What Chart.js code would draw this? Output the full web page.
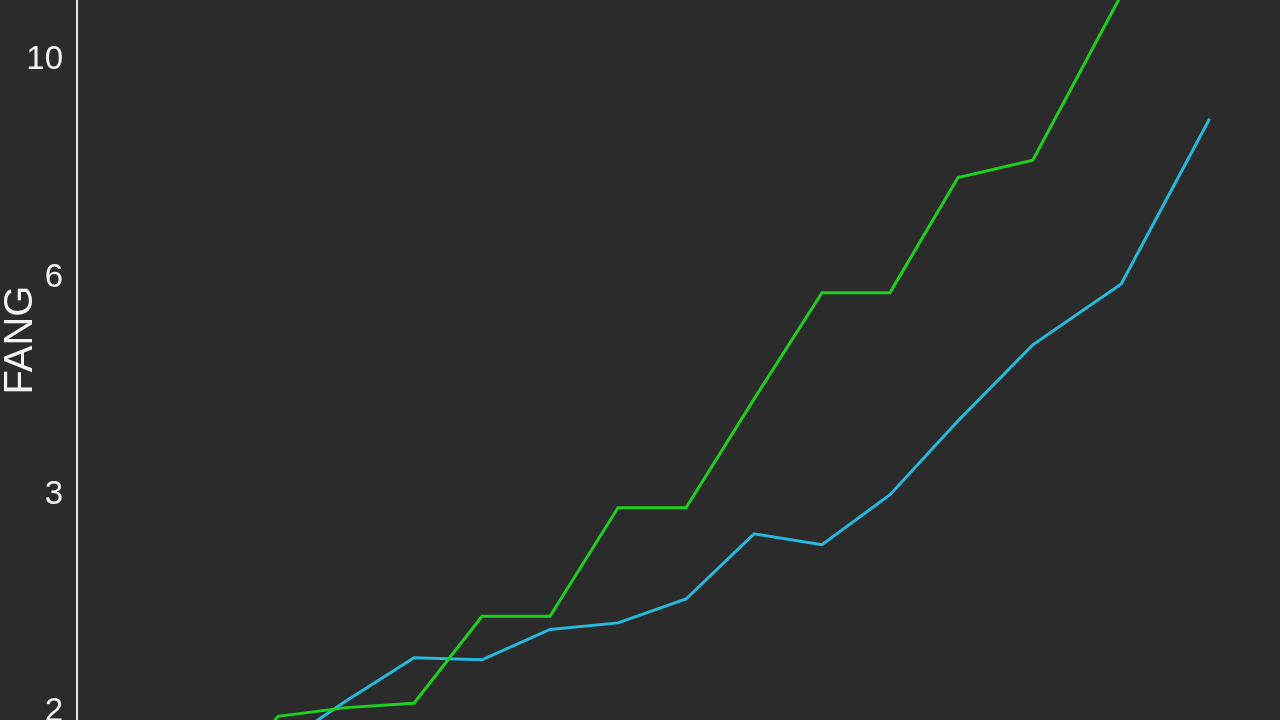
<!DOCTYPE html>
<html>
<head>
<meta charset="utf-8">
<title>FANG</title>
<script src="https://cdn.jsdelivr.net/npm/chart.js@4/dist/chart.umd.min.js"></script>
<style>
  html, body { margin: 0; padding: 0; background: #2b2b2b; }
  #wrap { position: relative; width: 1280px; height: 720px; overflow: hidden; background: #2b2b2b; }
  #fang-chart { position: absolute; left: 0; top: -60px; }
</style>
</head>
<body>
<div id="wrap">
  <canvas id="fang-chart" width="1280" height="800"></canvas>
</div>
<script>
// Tick labels shown on the y axis (evenly spaced in the picture)
const tickLabels = ['2', '3', '6', '10'];

// Periods along the x axis (spacing)
const periods = [-1, 0, 1, 2, 3, 4, 5, 6, 7, 8, 9, 10, 11.1, 12.4, 13.7];

// Series values, in tick steps above the "2" tick
const greenValues = [-0.4, -0.02, 0.02, 0.04, 0.44, 0.44, 0.94, 0.94, 1.44, 1.93, 1.93, 2.46, 2.54, 3.3, null];
const blueValues = [null, -0.16, 0.05, 0.25, 0.24, 0.38, 0.41, 0.52, 0.82, 0.77, 1.0, 1.34, 1.69, 1.97, 2.73];

function toPoints(values) {
  return periods.map((p, i) => ({ x: p, y: values[i] }));
}

const ctx = document.getElementById('fang-chart').getContext('2d');

new Chart(ctx, {
  type: 'line',
  data: {
    datasets: [
      {
        label: 'Green',
        data: toPoints(greenValues),
        borderColor: '#1fcf1f',
        borderWidth: 3,
        pointRadius: 0,
        tension: 0
      },
      {
        label: 'Blue',
        data: toPoints(blueValues),
        borderColor: '#26b9dc',
        borderWidth: 3,
        pointRadius: 0,
        tension: 0
      }
    ]
  },
  options: {
    responsive: false,
    animation: false,
    devicePixelRatio: 1,
    layout: { padding: 0 },
    plugins: {
      legend: { display: false },
      tooltip: { enabled: false }
    },
    scales: {
      x: {
        type: 'linear',
        display: false,
        min: -2.956,
        max: 14.735
      },
      y: {
        type: 'linear',
        min: -0.129,
        max: 3.553,
        afterBuildTicks: function(scale) {
          scale.ticks = tickLabels.map((t, i) => ({ value: i }));
        },
        afterFit: function(scale) {
          scale.width = 77;
          scale.paddingTop = 0;
          scale.paddingBottom = 0;
        },
        grid: { display: false, drawTicks: false },
        border: { display: true, color: '#e6e6e6', width: 2 },
        ticks: {
          color: '#f2f2f2',
          padding: 14,
          font: { family: 'Liberation Sans', size: 33 },
          callback: function(value) {
            return tickLabels[value];
          }
        },
        title: {
          display: true,
          text: 'FANG',
          color: '#f2f2f2',
          padding: 0,
          font: { family: 'Liberation Sans', size: 40, lineHeight: 1.05 }
        }
      }
    }
  }
});
</script>
</body>
</html>
